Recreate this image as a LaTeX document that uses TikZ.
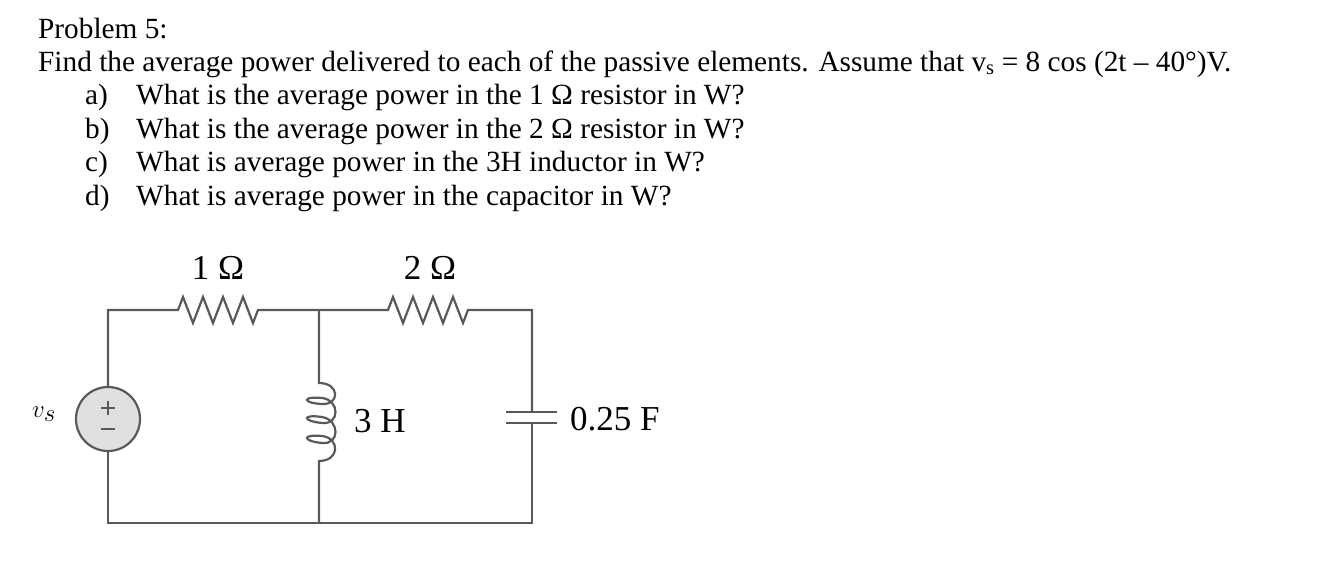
\documentclass[tikz,border=0pt]{standalone}
\usepackage{fontspec}
\setmainfont{Liberation Serif}
\begin{document}
\begin{tikzpicture}[x=1pt,y=-1pt,
  txt/.style={anchor=base west,inner sep=0pt,font=\fontsize{29.3}{34}\selectfont},
  lbl/.style={inner sep=0pt,font=\fontsize{35}{40}\selectfont},
  wire/.style={draw=black!65,line width=2.2pt}]
\useasboundingbox (0,0) rectangle (1336,565);
\node[txt] (t1) at (38,38) {Problem 5:};
\node[txt] (t2) at (38,71) {Find the average power delivered to each of the passive elements. Assume that v\textsubscript{s} = 8 cos (2t -- 40°)V.};
\node[txt] (la) at (85,104) {a)}; \node[txt] (qa) at (136,104) {What is the average power in the 1 Ω resistor in W?};
\node[txt] (lb) at (85,138) {b)}; \node[txt] (qb) at (136,138) {What is the average power in the 2 Ω resistor in W?};
\node[txt] (lc) at (85,171) {c)}; \node[txt] (qc) at (136,171) {What is average power in the 3H inductor in W?};
\node[txt] (ld) at (85,205) {d)}; \node[txt] (qd) at (136,205) {What is average power in the capacitor in W?};
% nodes
\coordinate (tl) at (108,310); \coordinate (tm) at (319,310); \coordinate (tr) at (532,310);
\coordinate (bl) at (108,523); \coordinate (bm) at (319,523); \coordinate (br) at (532,523);
\node[circle,draw=black!65,line width=2.2pt,fill=black!12,minimum size=64pt,inner sep=0pt] (src) at (108,419) {};
\draw[black!65,line width=2pt] (101,408) -- (115,408) (108,401) -- (108,415) (101,429) -- (115,429);
\draw[wire] (src.north) -- (tl) -- (178,310)
  -- (183,297) -- (193,323) -- (203,297) -- (213,323) -- (223,297) -- (233,323) -- (243,297) -- (253,323) -- (258,310)
  -- (tm) -- (388,310)
  -- (393,297) -- (403,323) -- (413,297) -- (423,323) -- (433,297) -- (443,323) -- (453,297) -- (463,323) -- (468,310)
  -- (tr) -- (532,412);
\draw[wire] (532,423) -- (br) -- (bl) -- (src.south);
\draw[wire] (tm) -- (319,383)
  .. controls (340,383) and (340,405) .. (322,404) .. controls (302,403) and (302,396) .. (322,398)
  .. controls (340,400) and (340,425) .. (322,423) .. controls (302,421) and (302,414) .. (322,417)
  .. controls (340,420) and (340,445) .. (322,443) .. controls (302,441) and (302,434) .. (322,436)
  .. controls (340,438) and (340,461) .. (319,461) -- (bm);
\draw[wire] (506,412) -- (557,412) (506,423) -- (557,423);
\node[lbl] (r1) at (218,268) {1 Ω};
\node[lbl] (r2) at (430,268) {2 Ω};
\node[lbl,font=\fontsize{42}{46}\selectfont] (vs) at (44,414) {$v_s$};
\node[lbl] (ind) at (380,421) {3 H};
\node[lbl,anchor=west] (cap) at (570,419) {0.25 F};
\end{tikzpicture}
\end{document}
